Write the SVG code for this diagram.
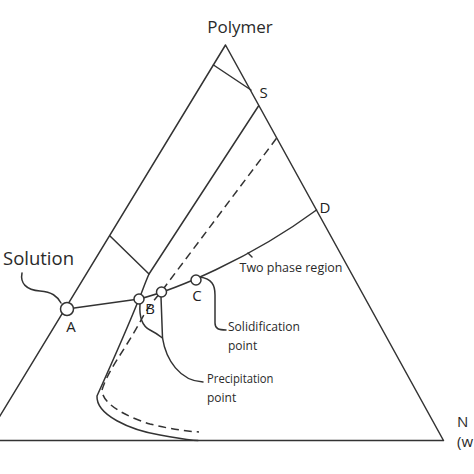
<svg xmlns="http://www.w3.org/2000/svg" width="474" height="474" viewBox="0 0 474 474">
<style>
.ln{fill:none;stroke:#333;stroke-width:1.5;stroke-linecap:round;stroke-linejoin:round}
.ds{fill:none;stroke:#333;stroke-width:1.5;stroke-dasharray:8 5}
.pt{fill:#fff;stroke:#333;stroke-width:1.5}
.t{font-family:"Open Sans","Noto Sans","Liberation Sans",sans-serif;fill:#2a2a2a}
.lt{font-family:"Open Sans","Noto Sans","Liberation Sans",sans-serif;fill:#222;font-size:15px;text-anchor:middle}
</style>
<rect width="474" height="474" fill="#fff"/>
<g id="triangle">
<path class="ln" d="M-15,440.5 L225.5,45 L443.5,440.5 Z"/>
</g>
<g id="connectors">
<path class="ln" d="M213.5,65 L251,90"/>
<path class="ln" d="M110,236 L149,274"/>
<path class="ln" d="M258.5,106 L149,274 C145,283 142,292 139,299 C133,314 124,336 97,396 C96,415 130,430 160,435 C178,438 188,440 198,440.5"/>
<path class="ds" d="M276.5,138.3 L161,292 C150,305 145,312 140,322 C126,348 108,370 102,390 C102,405 130,418 150,424 C170,429 185,431 199,432"/>
<path class="ln" d="M67,309 L139,299 C175,290 250,259 316.5,210"/>
<path class="ln" d="M248,253 L252,257"/>
<path class="ln" d="M22,273 C20,283 26,290 40,291 C52,292 57,296 61,303"/>
<path class="ln" d="M200,277 C212,279 215,285 215,295 L215,323 C215,329 219,330 226,330"/>
<path class="ln" d="M161,297 L162.5,338 C166,360 180,381 203,382"/>
<path class="ln" d="M140,304 C139,318 142,326 150,330 C156,333 160,336 162.5,338"/>
</g>
<g id="node-A"><circle class="pt" cx="67" cy="309" r="6.5"/><text class="lt" x="71" y="331.5">A</text></g>
<g id="node-B"><circle class="pt" cx="139" cy="299" r="5"/><text class="lt" x="150" y="314">B</text></g>
<g id="node-P"><circle class="pt" cx="161.5" cy="292" r="5"/></g>
<g id="node-C"><circle class="pt" cx="196" cy="280" r="5"/><text class="lt" x="197" y="300.5">C</text></g>
<g id="node-S"><text class="lt" x="263.5" y="97.5">S</text></g>
<g id="node-D"><text class="lt" x="325" y="212.5">D</text></g>
<g id="labels">
<text class="t" x="240" y="33" font-size="17" text-anchor="middle">Polymer</text>
<text class="t" x="3" y="265" font-size="18.5" textLength="71" lengthAdjust="spacingAndGlyphs">Solution</text>
<text class="t" x="239.5" y="272" font-size="13" textLength="103" lengthAdjust="spacingAndGlyphs">Two phase region</text>
<text class="t" x="228" y="330.5" font-size="12" textLength="72" lengthAdjust="spacingAndGlyphs">Solidification</text>
<text class="t" x="228" y="349.5" font-size="12">point</text>
<text class="t" x="207" y="383" font-size="12" textLength="66.5" lengthAdjust="spacingAndGlyphs">Precipitation</text>
<text class="t" x="207" y="402" font-size="12">point</text>
<text class="t" x="457" y="427" font-size="15">N</text>
<text class="t" x="457" y="447" font-size="15">(w</text>
</g>
</svg>
